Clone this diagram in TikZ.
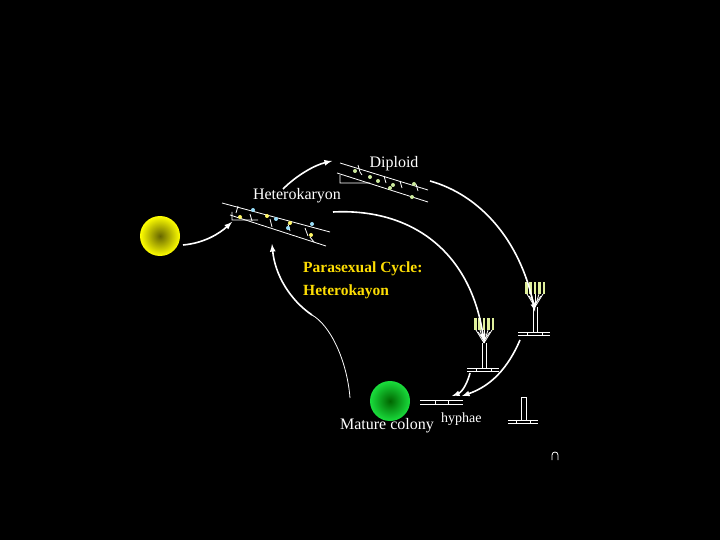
\documentclass[tikz,border=0pt]{standalone}
\usepackage{fontspec}
\setmainfont{Liberation Serif}
\begin{document}
\begin{tikzpicture}[x=1pt,y=-1pt,
  wl/.style={white,line width=0.8pt},
  arr/.style={white,line width=1.6pt,-latex},
  lbl/.style={white,font=\fontsize{16}{18}\selectfont,inner sep=0pt},
  ylbl/.style={yellow!80!orange,font=\bfseries\fontsize{15.5}{23}\selectfont,inner sep=0pt,anchor=west,align=left}]
\fill[black] (0,0) rectangle (720,540);
\useasboundingbox (0,0) rectangle (720,540);
% balls
\shade[inner color=yellow!40!black, outer color=yellow] (160,236) circle (20);
\node[minimum size=40pt,inner sep=0pt] (yb) at (160,236) {};
\shade[inner color=green!40!black, outer color=green!70!teal!90!white] (390,401) circle (20);
\node[minimum size=40pt,inner sep=0pt] (gb) at (390,401) {};
% heterokaryon hypha
\begin{scope}[wl]
\draw (222,203) -- (330,232); \draw (230,215) -- (326,246);
\draw (238,206)--(236,213) (232,212)--(232,220)--(258,220) (250,214)--(252,221) (270,219)--(272,227) (288,224)--(290,231) (305,228)--(308,236) (310,237)--(314,242);
\end{scope}
\foreach \p/\c in {{240,217}/yellow!60,{253,210}/cyan!40,{267,216}/yellow!60,{276,219}/cyan!40,{290,223}/yellow!60,{288,228}/cyan!40,{312,224}/cyan!40,{311,235}/yellow!60}
  \fill[\c] (\p) circle (2);
% diploid hypha
\begin{scope}[wl]
\draw (340,163) -- (428,190); \draw (337,173) -- (428,202);
\draw (340,175)--(340,183)--(370,183) (358,165)--(360,172) (384,176)--(386,183) (400,181)--(402,188) (416,184)--(418,191) (360,172)--(362,175);
\end{scope}
\foreach \p in {{355,171},{370,177},{378,181},{393,185},{414,184},{390,188},{412,197}}
  \fill[yellow!50!green!40] (\p) circle (2);
% conidiophores
\foreach \x/\y in {484/368,535/332}{
  \draw[wl] (\x-17,\y) -- (\x+15,\y) (\x-17,\y+3) -- (\x+15,\y+3) (\x-8,\y)--(\x-8,\y+3) (\x+7,\y)--(\x+7,\y+3);
  \draw[wl] (\x-2,\y) -- (\x-2,\y-25) (\x+2,\y) -- (\x+2,\y-25);
  \foreach \dx in {-8,-4,0,4,8}{
    \draw[wl] (\x,\y-25) -- (\x+\dx,\y-38);
    \fill[yellow!70!green!40] (\x+\dx*1.1-1.3,\y-50) rectangle (\x+\dx*1.1+1.3,\y-38);}
  \draw[wl] (\x-6,\y-36) -- (\x,\y-28) -- (\x+6,\y-36);
}
\node (c1) at (484,345) {};
\node (c2) at (535,308) {};
% hyphae marks
\draw[wl] (420,400) -- (463,400) (420,404) -- (463,404) (435,400)--(435,404) (448,400)--(448,404);
\coordinate (hy) at (452,396);
\coordinate (hy2) at (462,396);
\draw[wl] (508,420) -- (538,420) (508,423) -- (538,423) (516,420)--(516,423) (530,420)--(530,423) (521,420)--(521,397)--(526,397)--(526,420);
\draw[wl] (552,460) -- (552,455) .. controls (552,451) and (558,451) .. (558,455) -- (558,460);
% texts
\node[lbl] (dip) at (394,164) {Diploid};
\node[lbl] (het) at (297,196) {Heterokaryon};
\node[ylbl] (ps) at (303,280) {Parasexual Cycle:\\Heterokayon};
\node[lbl] (mc) at (387,426) {Mature colony};
\node[lbl,font=\fontsize{14}{16}\selectfont,anchor=west] (hyl) at (441,419) {hyphae};
% arrows
\coordinate (h1) at (232,222); \coordinate (h2) at (283,189); \coordinate (d1) at (332,161);
\coordinate (d2) at (430,181); \coordinate (e1) at (333,212); \coordinate (m1) at (350,398); \coordinate (h3) at (272,244);
\draw[arr] (183,245) .. controls (205,243) and (220,233) .. (h1);
\draw[arr] (h2) .. controls (297,175) and (315,165) .. (d1);
\draw[arr] (d2) .. controls (480,195) and (520,240) .. (c2.south);
\draw[arr] (e1) .. controls (410,208) and (470,250) .. (c1.north);
\draw[arr] (520,340) .. controls (505,375) and (485,388) .. (hy2);
\draw[arr] (470,373) .. controls (466,388) and (460,393) .. (hy);
\draw[white,line width=0.8pt] (m1) .. controls (347,360) and (330,325) .. (312,315);
\draw[arr] (312,315) .. controls (290,300) and (275,275) .. (h3);
\end{tikzpicture}
\end{document}
